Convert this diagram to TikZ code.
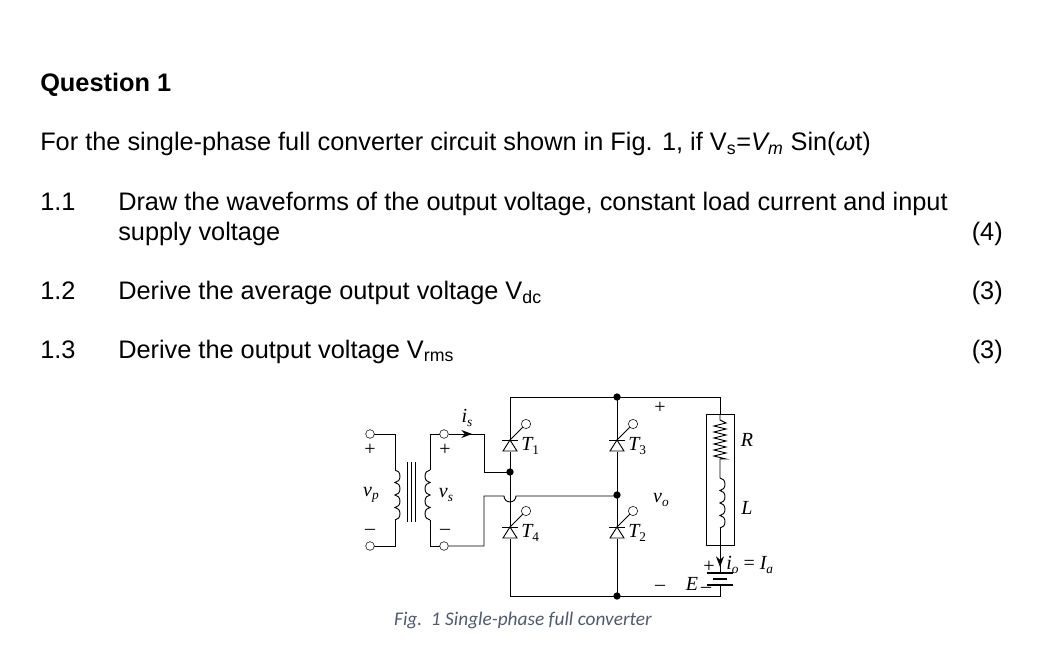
\documentclass[tikz,border=0pt]{standalone}
\usepackage{fontspec}
\setmainfont{Liberation Sans}
\newfontfamily\calfnt{Carlito}
\newfontfamily\tms{Liberation Serif}
\usetikzlibrary{decorations.pathmorphing,arrows.meta}
\newcommand{\sbs}[1]{\raisebox{-0.35ex}{\fontsize{10}{11}\selectfont #1}}
\begin{document}
\begin{tikzpicture}[x=0.75pt,y=-0.75pt,
 txt/.style={anchor=base west,inner sep=0,font=\fontsize{19}{22}\selectfont},
 w/.style={line width=0.7pt},
 term/.style={circle,draw,inner sep=0,minimum size=6.5pt,fill=white},
 dot/.style={circle,fill,inner sep=0,minimum size=5.5pt},
 lab/.style={inner sep=0,font=\tms\itshape\fontsize{15}{16}\selectfont},
 sgn/.style={inner sep=0,font=\tms\fontsize{15}{16}\selectfont}]
\useasboundingbox (0,0) rectangle (1037,645);
\node[txt,font=\bfseries\fontsize{19}{22}\selectfont] (q) at (40,92) {Question 1};
\node[txt] (l0) at (40,151) {For the single-phase full converter circuit shown in Fig. 1, if V\textsubscript{s}=\textit{V\textsubscript{m}} Sin(\textit{ω}t)};
\node[txt] (n1) at (40,210) {1.1};
\node[txt] (t1) at (118,210) {Draw the waveforms of the output voltage, constant load current and input};
\node[txt] (t1b) at (118,240) {supply voltage};
\node[txt,anchor=base east] (m1) at (1003,240) {(4)};
\node[txt] (n2) at (40,299) {1.2};
\node[txt] (t2) at (118,299) {Derive the average output voltage V\textsubscript{dc}};
\node[txt,anchor=base east] (m2) at (1003,299) {(3)};
\node[txt] (n3) at (40,358) {1.3};
\node[txt] (t3) at (118,358) {Derive the output voltage V\textsubscript{rms}};
\node[txt,anchor=base east] (m3) at (1003,358) {(3)};
% transformer
\draw[w] (370,434) -- (395,434) -- (395,470);
\draw[w] (395,470) \foreach \i in {0,...,3}{ arc(-90:90:5 and 6.25)} ;
\draw[w] (395,520) -- (395,546) -- (370,546);
\foreach \xx in {407,411,415} \draw[w] (\xx,462) -- (\xx,522);
\draw[w] (444,434) -- (430,434) -- (430,470);
\draw[w] (430,470) \foreach \i in {0,...,3}{ arc(90:270:5 and -6.25)} ;
\draw[w] (430,520) -- (430,546) -- (444,546);
\node[term] (p1) at (370,434) {};
\node[term] (p2) at (370,546) {};
\node[term] (s1) at (444,434) {};
\node[term] (s2) at (444,546) {};
\node[sgn] at (370,450) {+};
\node[sgn] at (370,532) {–};
\node[sgn] at (445,450) {+};
\node[sgn] at (445,532) {–};
\node[lab] at (371,495) {v\sbs{p}};
\node[lab] at (446,495) {v\sbs{s}};
\node[lab] at (467,418) {i\sbs{s}};
% secondary connections
\draw[w,-{Stealth[length=8pt]}] (s1) -- (472,434);
\draw[w] (468,434) -- (484,434) -- (484,472) -- (510,472);
\draw[w] (s2) -- (484,546) -- (484,496) -- (504,496) arc(180:0:6) -- (617,496);
% bridge
\coordinate (tl) at (510,397); \coordinate (bl) at (510,596);
\draw[w] (tl) -- (bl);
\draw[w] (617,397) -- (617,596);
\draw[w] (tl) -- (720,397) -- (720,414);
\draw[w] (bl) -- (720,596) -- (720,584);
\node[dot] at (510,472) {}; \node[dot] at (617,397) {}; \node[dot] at (617,495) {}; \node[dot] at (617,596) {};
\foreach \x/\y/\n in {510/445/1,510/532/4,617/445/3,617/532/2}{
 \fill[white] (\x-7,\y-6) rectangle (\x+7,\y+7);
 \draw[w] (\x-7,\y+6) -- (\x+7,\y+6) -- (\x,\y-5) -- cycle;
 \draw[w] (\x-8,\y-5) -- (\x+8,\y-5);
 \draw[w] (\x,\y-5) -- (\x+13,\y-18);
 \node[term,minimum size=7pt] at (\x+16,\y-21) {};
 \node[lab,anchor=west] at (\x+11,\y+1) {T\sbs{\upshape\n}};
}
% load
\draw[w] (706,414) rectangle (734,545);
\draw[w] (720,414) -- (720,420) -- (726,423) \foreach \k in {0,1,2,3,4,5}{ -- ++(-12,3) -- ++(12,3)} -- (720,459) -- (720,478);
\draw[w] (720,478) \foreach \i in {0,...,3}{ arc(90:-90:5 and -6.25)} ;
\draw[w] (720,528) -- (720,545);
\draw[w,-{Stealth[length=8pt]}] (720,545) -- (720,567);
\draw[w] (720,563) -- (720,573);
\draw[line width=1.1pt] (707,573) -- (733,573);
\draw[line width=1.1pt] (713,579) -- (727,579);
\draw[line width=1.1pt] (707,585) -- (733,585);
\node[lab] at (747,440) {R};
\node[lab] at (747,508) {L};
\node[lab,anchor=west] at (726,565) {i\sbs{o} \upshape= \itshape I\sbs{a}};
\node[sgn] at (709,567) {+};
\node[lab] at (692,584) {E};
\node[sgn] at (706,590) {–};
\node[sgn] at (660,408) {+};
\node[lab] at (661,500) {v\sbs{o}};
\node[sgn] at (660,588) {–};
\node[inner sep=0,anchor=base,font=\calfnt\itshape\fontsize{14.5}{16}\selectfont,text={rgb,255:red,80;green,90;blue,110}] at (523,625) {Fig.\ \ 1 Single-phase full converter};
\end{tikzpicture}
\end{document}
